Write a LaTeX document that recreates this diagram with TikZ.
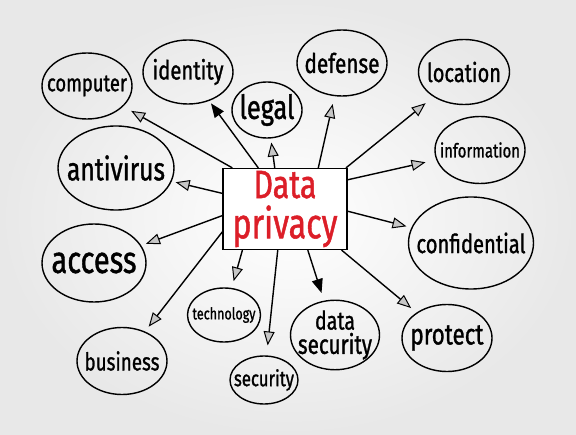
\documentclass[tikz,border=0pt]{standalone}
\usepackage{fontspec}
\setmainfont{Fira Sans}[FakeBold=1.3]
\usepackage{graphicx}
\usetikzlibrary{shapes.geometric,arrows.meta}
\definecolor{datared}{RGB}{220,30,40}
\newcommand{\hand}[2]{\makebox[0pt]{\resizebox{#1pt}{!}{\scalebox{1}[1.3]{#2}}}}

\begin{document}
\begin{tikzpicture}[x=1pt,y=-1pt,
  bubble/.style={draw,ellipse,line width=1.4pt,inner sep=0pt},
  link/.style={line width=1.4pt,-{Triangle[length=14pt,width=11pt,fill=gray!45,line width=1pt]}},
  linkfill/.style={line width=1.4pt,-{Triangle[length=14pt,width=11pt]}}]

% Background
\shade[inner color=white,outer color=black!9] (0,0) rectangle (576,435);
\useasboundingbox (0,0) rectangle (576,435);

% Central topic
\node[draw,line width=1.2pt,fill=white,minimum width=124,minimum height=81,
  inner sep=0pt,align=center,text=datared] (box) at (285,209)
  {\hand{63}{Data}\\[6pt]\hand{105}{privacy}};

% Bubbles, top row
\node[bubble,minimum width=90,minimum height=66] (computer) at (87,86) {\hand{80}{computer}};
\node[bubble,minimum width=90,minimum height=64] (identity) at (188,72) {\hand{71}{identity}};
\node[bubble,minimum width=70,minimum height=56] (legal) at (267,110) {\hand{55}{legal}};
\node[bubble,minimum width=90,minimum height=66] (defense) at (342,63) {\hand{75}{defense}};
\node[bubble,minimum width=91,minimum height=65] (location) at (464,72) {\hand{74}{location}};

% Bubbles, sides
\node[bubble,minimum width=90,minimum height=67] (information) at (480,150) {\hand{80}{information}};
\node[bubble,minimum width=116,minimum height=84] (antivirus) at (116,168) {\hand{98}{antivirus}};
\node[bubble,minimum width=125,minimum height=92] (confidential) at (471,243) {\hand{109}{confidential}};
\node[bubble,minimum width=104,minimum height=78] (access) at (94,263) {\hand{85}{access}};

% Bubbles, bottom row
\node[bubble,minimum width=90,minimum height=67] (business) at (122,361) {\hand{75}{business}};
\node[bubble,minimum width=73,minimum height=54] (technology) at (224,315) {\hand{63}{technology}};
\node[bubble,minimum width=68,minimum height=48] (security) at (264,380) {\hand{60}{security}};
\node[bubble,minimum width=89,minimum height=66,align=center] (datasec) at (335,335)
  {\hand{40}{data}\\[2pt]\hand{74}{security}};
\node[bubble,minimum width=90,minimum height=67] (protect) at (447,338) {\hand{73}{protect}};

% Arrows out of the box
\draw[link,shorten >=9pt] (box.142) -- (computer);
\draw[linkfill,shorten >=3pt] (box.123) -- (identity);
\draw[link,shorten >=4pt] (box.104) -- (legal);
\draw[link,shorten >=8pt] (box.51) -- (defense);
\draw[link,shorten >=10pt] (box.34) -- (location);
\draw[link,shorten >=11pt] (box.25) -- (information);
\draw[link,shorten >=4pt] (box.166) -- (antivirus);
\draw[link,shorten >=5pt] (box.-2) -- (confidential);
\draw[link,shorten >=5pt] (box.186) -- (access);
\draw[link,shorten >=6pt] (box.200) -- (business);
\draw[link,shorten >=7pt] (box.224) -- (technology);
\draw[link,shorten >=10pt] (box.260) -- (security);
\draw[linkfill,shorten >=8pt] (box.299) -- (datasec);
\draw[link,shorten >=7pt] (box.324) -- (protect);

\end{tikzpicture}
\end{document}
